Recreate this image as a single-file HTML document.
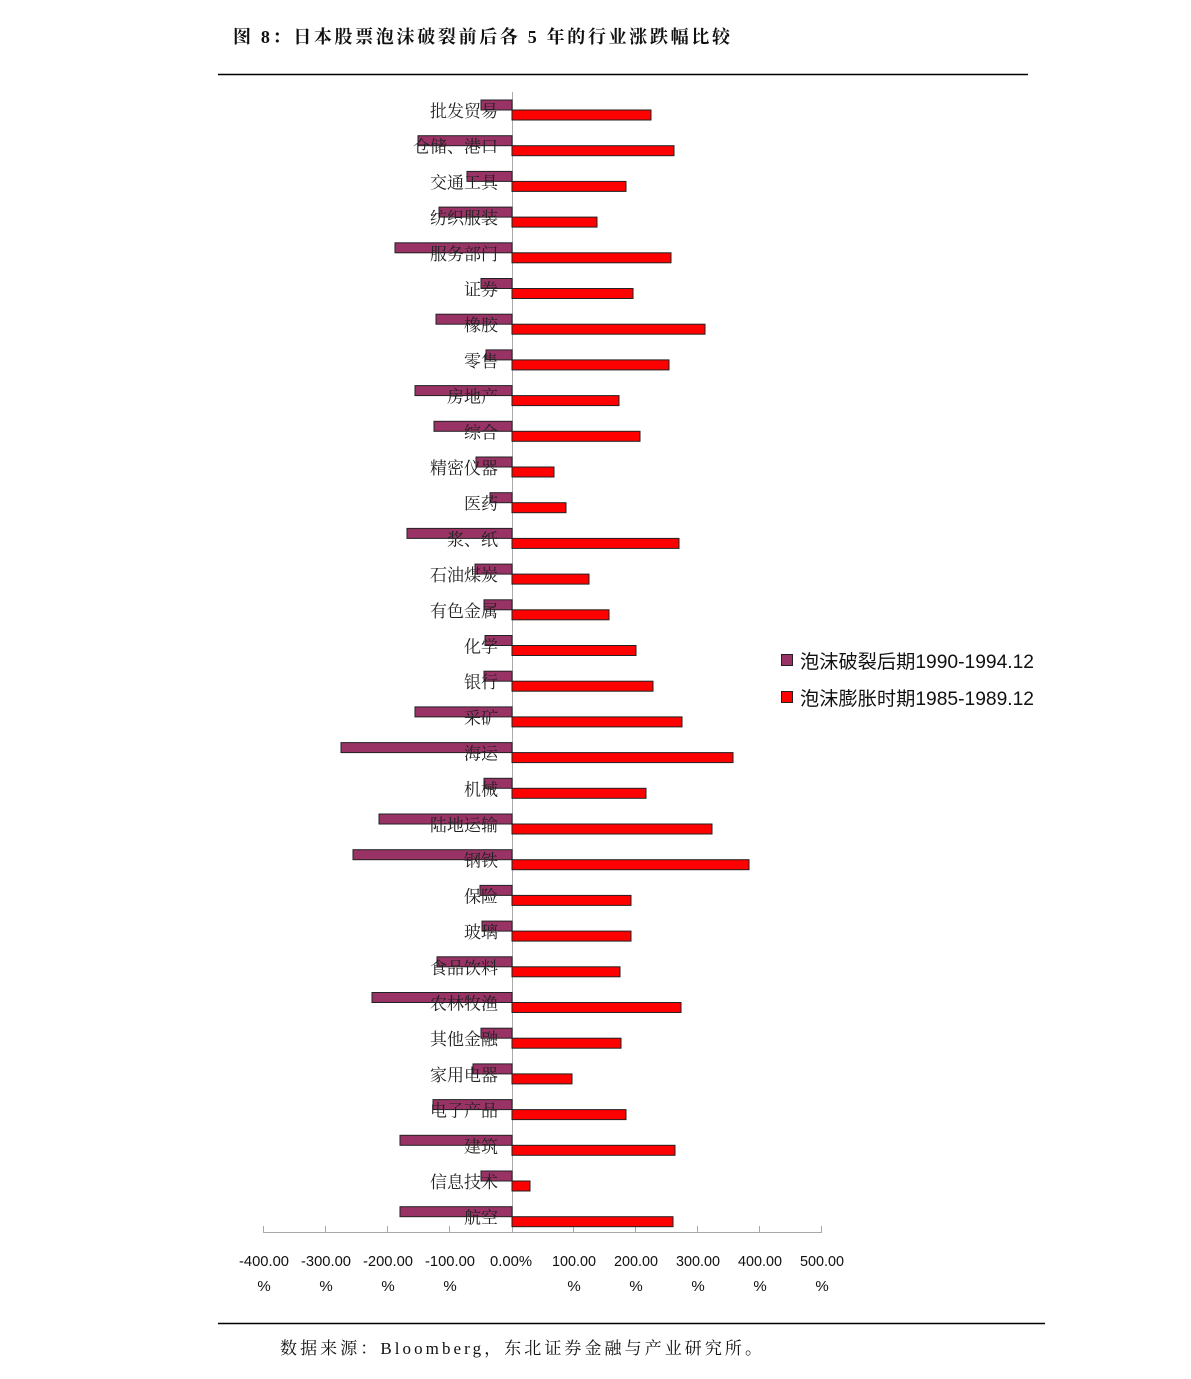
<!DOCTYPE html>
<html><head><meta charset="utf-8"><style>
body{margin:0;background:#fff;}
svg{display:block}
.l{font-family:"Liberation Serif","Noto Serif CJK SC",serif;font-size:17px;fill:#222;text-anchor:end}
.t{font-family:"Liberation Sans",sans-serif;font-size:15px;fill:#111;text-anchor:middle}
.p{fill:#993366;stroke:#222;stroke-width:1}
.r{fill:#ff0000;stroke:#222;stroke-width:1}
</style></head><body>
<svg width="1191" height="1379" xmlns="http://www.w3.org/2000/svg">
<text x="233" y="43" font-family="Liberation Serif,'Noto Serif CJK SC',serif" font-size="18" font-weight="bold" fill="#111" textLength="497" lengthAdjust="spacing">图 8：日本股票泡沫破裂前后各 5 年的行业涨跌幅比较</text>
<line x1="218" y1="74.5" x2="1028" y2="74.5" stroke="#000" stroke-width="1.5"/>
<line x1="218" y1="1323.5" x2="1045" y2="1323.5" stroke="#000" stroke-width="1.5"/>
<text x="280" y="1354" font-family="Liberation Serif,'Noto Serif CJK SC',serif" font-size="17" fill="#111" textLength="482" lengthAdjust="spacing">数据来源：Bloomberg，东北证券金融与产业研究所。</text>
<g stroke="#aaa" stroke-width="1">
<line x1="512.5" y1="92" x2="512.5" y2="1232"/>
<line x1="263" y1="1232.5" x2="822" y2="1232.5"/>
<line x1="263.5" y1="1226" x2="263.5" y2="1232"/><line x1="325.5" y1="1226" x2="325.5" y2="1232"/><line x1="387.5" y1="1226" x2="387.5" y2="1232"/><line x1="449.5" y1="1226" x2="449.5" y2="1232"/><line x1="573.5" y1="1226" x2="573.5" y2="1232"/><line x1="635.5" y1="1226" x2="635.5" y2="1232"/><line x1="697.5" y1="1226" x2="697.5" y2="1232"/><line x1="759.5" y1="1226" x2="759.5" y2="1232"/><line x1="821.5" y1="1226" x2="821.5" y2="1232"/>
</g>
<g>
<rect class="p" x="481" y="100" width="31" height="10"/><rect class="r" x="512" y="110" width="139" height="10"/>
<rect class="p" x="418" y="135.7" width="94" height="10"/><rect class="r" x="512" y="145.7" width="162" height="10"/>
<rect class="p" x="467" y="171.4" width="45" height="10"/><rect class="r" x="512" y="181.4" width="114" height="10"/>
<rect class="p" x="439" y="207.1" width="73" height="10"/><rect class="r" x="512" y="217.1" width="85" height="10"/>
<rect class="p" x="395" y="242.8" width="117" height="10"/><rect class="r" x="512" y="252.8" width="159" height="10"/>
<rect class="p" x="481" y="278.5" width="31" height="10"/><rect class="r" x="512" y="288.5" width="121" height="10"/>
<rect class="p" x="436" y="314.2" width="76" height="10"/><rect class="r" x="512" y="324.2" width="193" height="10"/>
<rect class="p" x="486" y="349.9" width="26" height="10"/><rect class="r" x="512" y="359.9" width="157" height="10"/>
<rect class="p" x="415" y="385.6" width="97" height="10"/><rect class="r" x="512" y="395.6" width="107" height="10"/>
<rect class="p" x="434" y="421.3" width="78" height="10"/><rect class="r" x="512" y="431.3" width="128" height="10"/>
<rect class="p" x="476" y="457" width="36" height="10"/><rect class="r" x="512" y="467" width="42" height="10"/>
<rect class="p" x="490" y="492.7" width="22" height="10"/><rect class="r" x="512" y="502.7" width="54" height="10"/>
<rect class="p" x="407" y="528.4" width="105" height="10"/><rect class="r" x="512" y="538.4" width="167" height="10"/>
<rect class="p" x="475" y="564.1" width="37" height="10"/><rect class="r" x="512" y="574.1" width="77" height="10"/>
<rect class="p" x="484" y="599.8" width="28" height="10"/><rect class="r" x="512" y="609.8" width="97" height="10"/>
<rect class="p" x="485" y="635.5" width="27" height="10"/><rect class="r" x="512" y="645.5" width="124" height="10"/>
<rect class="p" x="484" y="671.2" width="28" height="10"/><rect class="r" x="512" y="681.2" width="141" height="10"/>
<rect class="p" x="415" y="706.9" width="97" height="10"/><rect class="r" x="512" y="716.9" width="170" height="10"/>
<rect class="p" x="341" y="742.6" width="171" height="10"/><rect class="r" x="512" y="752.6" width="221" height="10"/>
<rect class="p" x="484" y="778.3" width="28" height="10"/><rect class="r" x="512" y="788.3" width="134" height="10"/>
<rect class="p" x="379" y="814" width="133" height="10"/><rect class="r" x="512" y="824" width="200" height="10"/>
<rect class="p" x="353" y="849.7" width="159" height="10"/><rect class="r" x="512" y="859.7" width="237" height="10"/>
<rect class="p" x="480" y="885.4" width="32" height="10"/><rect class="r" x="512" y="895.4" width="119" height="10"/>
<rect class="p" x="482" y="921.1" width="30" height="10"/><rect class="r" x="512" y="931.1" width="119" height="10"/>
<rect class="p" x="437" y="956.8" width="75" height="10"/><rect class="r" x="512" y="966.8" width="108" height="10"/>
<rect class="p" x="372" y="992.5" width="140" height="10"/><rect class="r" x="512" y="1002.5" width="169" height="10"/>
<rect class="p" x="481" y="1028.2" width="31" height="10"/><rect class="r" x="512" y="1038.2" width="109" height="10"/>
<rect class="p" x="473" y="1063.9" width="39" height="10"/><rect class="r" x="512" y="1073.9" width="60" height="10"/>
<rect class="p" x="433" y="1099.6" width="79" height="10"/><rect class="r" x="512" y="1109.6" width="114" height="10"/>
<rect class="p" x="400" y="1135.3" width="112" height="10"/><rect class="r" x="512" y="1145.3" width="163" height="10"/>
<rect class="p" x="481" y="1171" width="31" height="10"/><rect class="r" x="512" y="1181" width="18" height="10"/>
<rect class="p" x="400" y="1206.7" width="112" height="10"/><rect class="r" x="512" y="1216.7" width="161" height="10"/>
</g>
<g class="l">
<text class="l" x="498" y="117">批发贸易</text>
<text class="l" x="498" y="152.7">仓储、港口</text>
<text class="l" x="498" y="188.4">交通工具</text>
<text class="l" x="498" y="224.1">纺织服装</text>
<text class="l" x="498" y="259.8">服务部门</text>
<text class="l" x="498" y="295.5">证券</text>
<text class="l" x="498" y="331.2">橡胶</text>
<text class="l" x="498" y="366.9">零售</text>
<text class="l" x="498" y="402.6">房地产</text>
<text class="l" x="498" y="438.3">综合</text>
<text class="l" x="498" y="474">精密仪器</text>
<text class="l" x="498" y="509.7">医药</text>
<text class="l" x="498" y="545.4">浆、纸</text>
<text class="l" x="498" y="581.1">石油煤炭</text>
<text class="l" x="498" y="616.8">有色金属</text>
<text class="l" x="498" y="652.5">化学</text>
<text class="l" x="498" y="688.2">银行</text>
<text class="l" x="498" y="723.9">采矿</text>
<text class="l" x="498" y="759.6">海运</text>
<text class="l" x="498" y="795.3">机械</text>
<text class="l" x="498" y="831">陆地运输</text>
<text class="l" x="498" y="866.7">钢铁</text>
<text class="l" x="498" y="902.4">保险</text>
<text class="l" x="498" y="938.1">玻璃</text>
<text class="l" x="498" y="973.8">食品饮料</text>
<text class="l" x="498" y="1009.5">农林牧渔</text>
<text class="l" x="498" y="1045.2">其他金融</text>
<text class="l" x="498" y="1080.9">家用电器</text>
<text class="l" x="498" y="1116.6">电子产品</text>
<text class="l" x="498" y="1152.3">建筑</text>
<text class="l" x="498" y="1188">信息技术</text>
<text class="l" x="498" y="1223.7">航空</text>
</g>
<g>
<text class="t" x="264" y="1266" textLength="50" lengthAdjust="spacingAndGlyphs">-400.00</text><text class="t" x="264" y="1291">%</text>
<text class="t" x="326" y="1266" textLength="50" lengthAdjust="spacingAndGlyphs">-300.00</text><text class="t" x="326" y="1291">%</text>
<text class="t" x="388" y="1266" textLength="50" lengthAdjust="spacingAndGlyphs">-200.00</text><text class="t" x="388" y="1291">%</text>
<text class="t" x="450" y="1266" textLength="50" lengthAdjust="spacingAndGlyphs">-100.00</text><text class="t" x="450" y="1291">%</text>
<text class="t" x="511" y="1266" textLength="42" lengthAdjust="spacingAndGlyphs">0.00%</text>
<text class="t" x="574" y="1266" textLength="44" lengthAdjust="spacingAndGlyphs">100.00</text><text class="t" x="574" y="1291">%</text>
<text class="t" x="636" y="1266" textLength="44" lengthAdjust="spacingAndGlyphs">200.00</text><text class="t" x="636" y="1291">%</text>
<text class="t" x="698" y="1266" textLength="44" lengthAdjust="spacingAndGlyphs">300.00</text><text class="t" x="698" y="1291">%</text>
<text class="t" x="760" y="1266" textLength="44" lengthAdjust="spacingAndGlyphs">400.00</text><text class="t" x="760" y="1291">%</text>
<text class="t" x="822" y="1266" textLength="44" lengthAdjust="spacingAndGlyphs">500.00</text><text class="t" x="822" y="1291">%</text>
</g>
<rect class="p" x="781.5" y="654.5" width="11" height="11"/>
<rect class="r" x="781.5" y="691.5" width="11" height="11"/>
<text x="800" y="668" font-family="Liberation Sans,'Noto Sans CJK SC',sans-serif" font-size="19" fill="#111" textLength="234" lengthAdjust="spacingAndGlyphs">泡沫破裂后期1990-1994.12</text>
<text x="800" y="705" font-family="Liberation Sans,'Noto Sans CJK SC',sans-serif" font-size="19" fill="#111" textLength="234" lengthAdjust="spacingAndGlyphs">泡沫膨胀时期1985-1989.12</text>
</svg>
</body></html>
